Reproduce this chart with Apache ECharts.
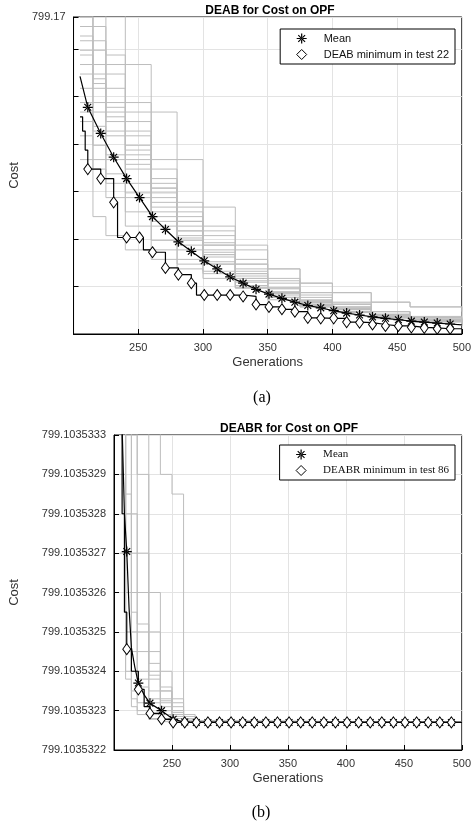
<!DOCTYPE html>
<html>
<head>
<meta charset="utf-8">
<script src="https://cdn.jsdelivr.net/npm/echarts@6/dist/echarts.min.js"></script>
<style>
  html, body { margin: 0; padding: 0; background: #fff; }
  #chart { width: 474px; height: 823px; }
</style>
</head>
<body>
<div id="chart"></div>
<script>
// panel (a): DEAB
const grayXA = [205, 215, 225, 240, 260, 280, 300, 325, 350, 375, 400, 430, 460, 500];
const grayRunsA = [
    [799.170, 799.165, 799.158, 799.150, 799.138, 799.130, 799.124, 799.118, 799.114, 799.112, 799.110, 799.108, 799.107, 799.1058],
    [799.160, 799.152, 799.145, 799.138, 799.130, 799.124, 799.120, 799.116, 799.112, 799.110, 799.109, 799.107, 799.1062, 799.1055],
    [799.155, 799.147, 799.140, 799.133, 799.126, 799.121, 799.118, 799.113, 799.111, 799.1092, 799.1078, 799.1068, 799.1058, 799.105],
    [799.175, 799.175, 799.162, 799.152, 799.140, 799.131, 799.126, 799.121, 799.117, 799.114, 799.112, 799.110, 799.109, 799.107],
    [799.145, 799.138, 799.132, 799.126, 799.121, 799.118, 799.116, 799.113, 799.1105, 799.109, 799.108, 799.1065, 799.106, 799.1052],
    [799.165, 799.158, 799.150, 799.143, 799.133, 799.126, 799.121, 799.116, 799.113, 799.111, 799.109, 799.1075, 799.1065, 799.1058],
    [799.150, 799.143, 799.137, 799.132, 799.127, 799.122, 799.118, 799.115, 799.112, 799.110, 799.1085, 799.107, 799.106, 799.105],
    [799.168, 799.160, 799.152, 799.145, 799.136, 799.128, 799.122, 799.118, 799.1145, 799.1115, 799.1095, 799.108, 799.1068, 799.106],
    [799.140, 799.128, 799.124, 799.121, 799.119, 799.117, 799.115, 799.113, 799.111, 799.109, 799.108, 799.107, 799.1062, 799.1054],
    [799.170, 799.163, 799.155, 799.146, 799.135, 799.127, 799.122, 799.117, 799.113, 799.1105, 799.1088, 799.1074, 799.1064, 799.1056],
    [799.175, 799.175, 799.172, 799.160, 799.150, 799.140, 799.130, 799.122, 799.117, 799.114, 799.112, 799.110, 799.109, 799.108],
    [799.158, 799.150, 799.146, 799.140, 799.131, 799.125, 799.120, 799.115, 799.112, 799.110, 799.1085, 799.107, 799.1062, 799.1053],
    [799.162, 799.155, 799.148, 799.141, 799.132, 799.125, 799.1195, 799.1145, 799.1115, 799.1095, 799.108, 799.1068, 799.106, 799.1052],
    [799.148, 799.140, 799.135, 799.129, 799.123, 799.119, 799.1165, 799.1135, 799.111, 799.1093, 799.1079, 799.1069, 799.1061, 799.1051],
    [799.166, 799.156, 799.149, 799.139, 799.129, 799.123, 799.1185, 799.1142, 799.1118, 799.1098, 799.1084, 799.1071, 799.1063, 799.1054],
    [799.172, 799.168, 799.160, 799.148, 799.134, 799.127, 799.1225, 799.1165, 799.1128, 799.1103, 799.1087, 799.1073, 799.1062, 799.1055],
    [799.152, 799.146, 799.141, 799.135, 799.128, 799.1235, 799.1205, 799.1155, 799.1122, 799.1102, 799.1086, 799.1072, 799.1064, 799.1057],
    [799.163, 799.157, 799.151, 799.142, 799.134, 799.129, 799.125, 799.119, 799.115, 799.112, 799.1098, 799.108, 799.1068, 799.1058]
];
const meanXA = [205, 211, 221, 231, 241, 251, 261, 271, 281, 291, 301, 311, 321, 331, 341, 351, 361, 371, 381, 391, 401, 411, 421, 431, 441, 451, 461, 471, 481, 491, 500];
const meanYA = [799.1575, 799.151, 799.1455, 799.1405, 799.136, 799.132, 799.128, 799.1253, 799.1227, 799.1207, 799.1187, 799.117, 799.1153, 799.114, 799.1127, 799.1117, 799.1108, 799.110, 799.1093, 799.1088, 799.1082, 799.1077, 799.1073, 799.1069, 799.1066, 799.1063, 799.106, 799.1058, 799.1056, 799.1054, 799.1052];
const minXA = [205, 207, 209, 211, 221, 231, 234, 241, 251, 254, 261, 271, 281, 291, 295, 301, 311, 321, 331, 341, 351, 361, 371, 381, 391, 401, 411, 421, 431, 441, 451, 461, 471, 481, 491, 500];
const minYA = [799.149, 799.146, 799.142, 799.138, 799.136, 799.131, 799.1236, 799.1236, 799.1236, 799.121, 799.1205, 799.1172, 799.1158, 799.114, 799.1115, 799.1115, 799.1115, 799.1115, 799.1112, 799.1095, 799.109, 799.1085, 799.108, 799.1067, 799.1066, 799.1066, 799.1058, 799.1057, 799.1053, 799.105, 799.105, 799.1047, 799.1046, 799.1044, 799.1044, 799.1043];

// panel (b): DEABR, values in units of 1e-7 above 799.1035322
const grayXB = [205, 210, 215, 220, 230, 240, 250, 260, 270, 500];
const grayRunsB = [
    [12, 6, 3, 2, 1.5, 1.1, 0.9, 0.75, 0.7, 0.7],
    [12, 12, 8, 5, 2.5, 1.5, 1.0, 0.8, 0.7, 0.7],
    [12, 4, 2.5, 1.8, 1.2, 0.9, 0.8, 0.72, 0.7, 0.7],
    [12, 12, 12, 12, 9, 7, 6.5, 0.8, 0.7, 0.7],
    [12, 3, 2, 1.6, 1.3, 1.0, 0.85, 0.72, 0.7, 0.7],
    [12, 8, 6, 4, 2, 1.2, 0.9, 0.75, 0.7, 0.7],
    [12, 5, 3.5, 2.5, 1.8, 1.3, 1.0, 0.8, 0.7, 0.7],
    [12, 12, 10, 7, 3, 1.6, 1.1, 0.8, 0.7, 0.7],
    [9, 2.5, 1.5, 1.2, 0.9, 0.8, 0.72, 0.7, 0.7, 0.7],
    [12, 6.5, 4, 3, 2.2, 1.5, 1.2, 0.85, 0.7, 0.7],
    [12, 12, 12, 9, 4, 2, 1.3, 0.9, 0.7, 0.7],
    [7, 2, 1.3, 1.0, 0.8, 0.75, 0.7, 0.7, 0.7, 0.7],
    [5, 1.8, 1.1, 0.9, 0.78, 0.72, 0.7, 0.7, 0.7, 0.7],
    [12, 9, 5, 3.2, 1.9, 1.25, 0.95, 0.76, 0.7, 0.7]
];
const meanXB = [205, 207, 209, 211, 213, 215, 218, 221, 226, 231, 241, 251, 261, 271, 281, 291, 301, 311, 321, 331, 341, 351, 361, 371, 381, 391, 401, 411, 421, 431, 441, 451, 461, 471, 481, 491, 500];
const meanYB = [10, 8.2, 6.0, 5.04, 3.6, 2.6, 2.1, 1.7, 1.4, 1.19, 1.0, 0.78, 0.71, 0.7, 0.7, 0.7, 0.7, 0.7, 0.7, 0.7, 0.7, 0.7, 0.7, 0.7, 0.7, 0.7, 0.7, 0.7, 0.7, 0.7, 0.7, 0.7, 0.7, 0.7, 0.7, 0.7, 0.7];
const minXB = [205, 207, 209, 211, 215, 221, 226, 231, 241, 251, 261, 271, 281, 291, 301, 311, 321, 331, 341, 351, 361, 371, 381, 391, 401, 411, 421, 431, 441, 451, 461, 471, 481, 491, 500];
const minYB = [9, 6, 3.5, 2.56, 2.0, 1.54, 1.1, 0.93, 0.78, 0.7, 0.7, 0.7, 0.7, 0.7, 0.7, 0.7, 0.7, 0.7, 0.7, 0.7, 0.7, 0.7, 0.7, 0.7, 0.7, 0.7, 0.7, 0.7, 0.7, 0.7, 0.7, 0.7, 0.7, 0.7, 0.7];
const yTicksB = ['799.1035322', '799.1035323', '799.1035324', '799.1035325', '799.1035326', '799.1035327', '799.1035328', '799.1035329', '799.1035333'];

const STAR = 'path://M4.4,0h1.2v10h-1.2z M0,4.4h10v1.2h-10z M1.2,2l.8-.8l6.8,6.8l-.8.8z M8.8,2l-.8-.8l-6.8,6.8l.8.8z';
const txt = '#333';
const font = 'Liberation Sans';

function markedData(xs, ys) {
    return xs.map(function (x, i) {
        var on = x >= 211 && (x - 211) % 10 === 0 && x < 500;
        return on ? [x, ys[i]] : { value: [x, ys[i]], symbol: 'none' };
    });
}

function panelSeries(idx, grayX, grayRuns, meanX, meanY, minX, minY, minName) {
    var s = grayRuns.map(function (run) {
        return {
            type: 'line', xAxisIndex: idx, yAxisIndex: idx, step: 'end', symbol: 'none', silent: true,
            lineStyle: { color: '#bdbdbd', width: 1 },
            data: grayX.map(function (x, i) { return [x, run[i]]; })
        };
    });
    s.push({
        name: 'Mean', type: 'line', xAxisIndex: idx, yAxisIndex: idx,
        symbol: STAR, symbolSize: 10, itemStyle: { color: '#000' },
        lineStyle: { color: '#000', width: 1.2 },
        data: markedData(meanX, meanY)
    });
    s.push({
        name: minName, type: 'line', xAxisIndex: idx, yAxisIndex: idx, step: 'end',
        symbol: 'diamond', symbolSize: [8, 11], itemStyle: { color: '#fff', borderColor: '#000', borderWidth: 1 },
        lineStyle: { color: '#000', width: 1.2 },
        data: markedData(minX, minY)
    });
    return s;
}

function xAxis(idx) {
    return {
        gridIndex: idx, type: 'value', min: 200, max: 500, interval: 50,
        name: 'Generations', nameLocation: 'middle', nameGap: 22,
        nameTextStyle: { color: txt, fontSize: 13, fontFamily: font },
        axisLine: { lineStyle: { color: '#000' } },
        axisTick: { inside: true, lineStyle: { color: '#000' } },
        axisLabel: { color: txt, fontSize: 11, fontFamily: font, formatter: function (v) { return v === 200 ? '' : v; } },
        splitLine: { show: true, lineStyle: { color: '#e3e3e3' } }
    };
}

function legend(name2, top, family) {
    return {
        data: [{ name: 'Mean', icon: STAR }, { name: name2, icon: 'diamond', itemStyle: { color: '#fff', borderColor: '#000', borderWidth: 1 } }],
        orient: 'vertical', right: 19, top: top,
        borderColor: '#000', borderWidth: 1, backgroundColor: '#fff', padding: [4, 6, 4, 16], itemGap: 5,
        itemWidth: 10, itemHeight: 10, textStyle: { color: '#111', fontSize: 11, fontFamily: family, padding: [0, 0, 0, 12] }
    };
}

var chart = echarts.init(document.getElementById('chart'), null, { renderer: 'canvas' });
var option = {
    animation: false,
    title: [
        { text: 'DEAB for Cost on OPF', left: 265, top: 0, textAlign: 'center', textStyle: { fontSize: 12, fontWeight: 'bold', fontFamily: font, color: '#000' } },
        { text: 'DEABR for Cost on OPF', left: 284, top: 418, textAlign: 'center', textStyle: { fontSize: 12, fontWeight: 'bold', fontFamily: font, color: '#000' } },
        { text: '(a)', left: 257, top: 385, textAlign: 'center', textStyle: { fontSize: 16, fontWeight: 'normal', fontFamily: 'Liberation Serif', color: '#000' } },
        { text: '(b)', left: 256, top: 800, textAlign: 'center', textStyle: { fontSize: 16, fontWeight: 'normal', fontFamily: 'Liberation Serif', color: '#000' } }
    ],
    legend: [
        legend('DEAB minimum in test 22', 29, font),
        legend('DEABR minimum in test 86', 445, 'Liberation Serif')
    ],
    grid: [
        { left: 65, right: 9, top: 17, bottom: 489, show: true, borderColor: '#000', borderWidth: 1, backgroundColor: '#fff' },
        { left: 103, right: 9, top: 435, bottom: 73, show: true, borderColor: '#000', borderWidth: 1, backgroundColor: '#fff' }
    ],
    xAxis: [xAxis(0), xAxis(1)],
    yAxis: [
        {
            gridIndex: 0, type: 'value', min: 799.1033, max: 799.17, interval: 0.01,
            name: 'Cost', nameLocation: 'middle', nameGap: 52, nameTextStyle: { color: txt, fontSize: 13, fontFamily: font },
            axisLine: { lineStyle: { color: '#000' } },
            axisTick: { inside: true, lineStyle: { color: '#000' } },
            axisLabel: {
                color: txt, fontSize: 11, fontFamily: font,
                formatter: function (v) { return Math.abs(v * 100 - Math.round(v * 100)) > 1e-4 ? '' : v.toFixed(2); }
            },
            splitLine: { show: true, lineStyle: { color: '#e3e3e3' } }
        },
        {
            gridIndex: 1, type: 'value', min: 0, max: 8, interval: 1,
            name: 'Cost', nameLocation: 'middle', nameGap: 93, nameTextStyle: { color: txt, fontSize: 13, fontFamily: font },
            axisLine: { lineStyle: { color: '#000' } },
            axisTick: { inside: true, lineStyle: { color: '#000' } },
            axisLabel: { color: txt, fontSize: 11, fontFamily: font, formatter: function (v) { return yTicksB[Math.round(v)]; } },
            splitLine: { show: true, lineStyle: { color: '#e3e3e3' } }
        }
    ],
    series: panelSeries(0, grayXA, grayRunsA, meanXA, meanYA, minXA, minYA, 'DEAB minimum in test 22')
        .concat(panelSeries(1, grayXB, grayRunsB, meanXB, meanYB, minXB, minYB, 'DEABR minimum in test 86'))
};
chart.setOption(option);
window.addEventListener('resize', chart.resize);
</script>
</body>
</html>
